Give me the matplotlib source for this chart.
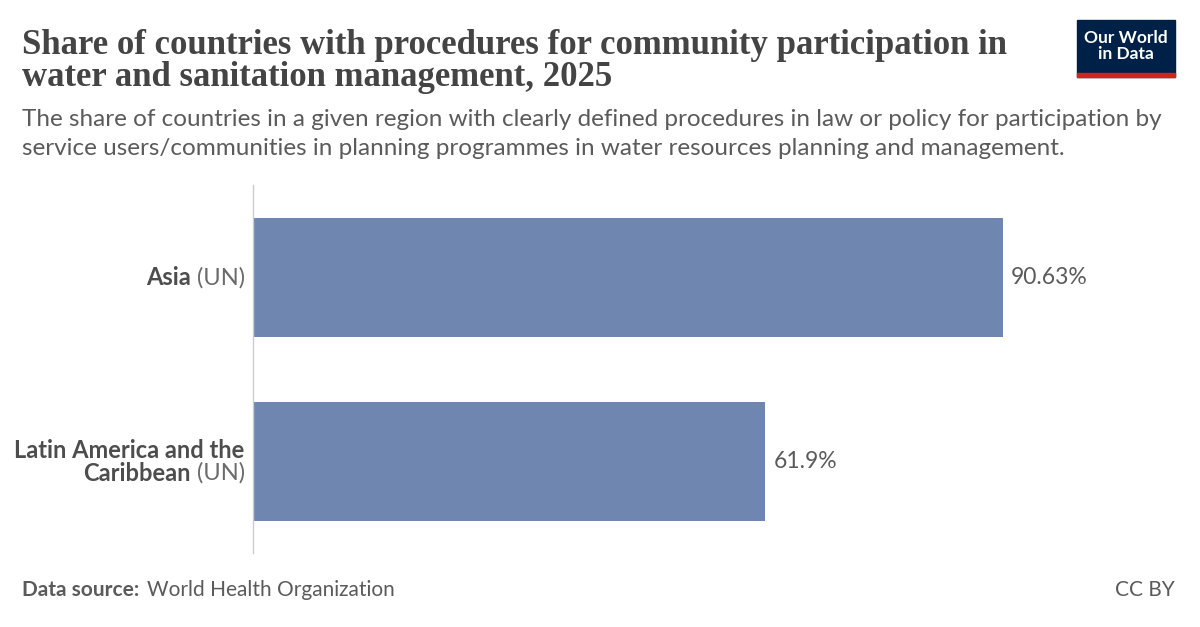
import matplotlib.pyplot as plt
from matplotlib.patches import Rectangle

regions = ['Asia', 'Latin America and the\nCaribbean']
suffix = ['(UN)', '(UN)']
values = [90.63, 61.9]
value_labels = ['90.63%', '61.9%']

title_lines = ['Share of countries with procedures for community participation in',
               'water and sanitation management, 2025']
subtitle_lines = ['The share of countries in a given region with clearly defined procedures in law or policy for participation by',
                  'service users/communities in planning programmes in water resources planning and management.']

W, H = 1200, 627
fig = plt.figure(figsize=(12, 6.27), dpi=100)
plt.rcParams['font.family'] = ['Lato', 'DejaVu Sans']

ax = fig.add_axes([253 / W, 1 - 553 / H, 827.5 / W, 368 / H])
ypos = list(range(len(regions)))
ax.barh(ypos, values, height=0.647, color='#6f87b0')
ax.set_xlim(0, 100)
ax.set_ylim(1.497, -0.503)
for y, v, lab in zip(ypos, values, value_labels):
    ax.text(v + 1.0, y, lab, va='center', ha='left', fontsize=16.5, color='#5b5b5b')

ax.set_xticks([])
ax.set_yticks([])
for s in ['top', 'right', 'bottom']:
    ax.spines[s].set_visible(False)
ax.spines['left'].set_color('#cccccc')
ax.spines['left'].set_linewidth(1)

# category labels: bold name + regular suffix
fs = 17
step = 16.5
for y, name, suf in zip(ypos, regions, suffix):
    lines = name.split('\n')
    n = len(lines)
    last_off = -step * (n - 1) / 2
    t = ax.annotate(' ' + suf, xy=(0, y), xycoords=('axes fraction', 'data'),
                    xytext=(-6, last_off), textcoords='offset points',
                    ha='right', va='center', fontsize=fs, color='#6b6b6b')
    fig.canvas.draw()
    suf_w = t.get_window_extent().width * 72 / fig.dpi
    ax.annotate(lines[-1], xy=(0, y), xycoords=('axes fraction', 'data'),
                xytext=(-6 - suf_w, last_off), textcoords='offset points',
                ha='right', va='center', fontsize=fs, color='#4d4d4d', fontweight='bold')
    for i, ln in enumerate(lines[:-1]):
        ax.annotate(ln, xy=(0, y), xycoords=('axes fraction', 'data'),
                    xytext=(-6, step * (n - 1) / 2 - step * i), textcoords='offset points',
                    ha='right', va='center', fontsize=fs, color='#4d4d4d', fontweight='bold')

for i, ln in enumerate(title_lines):
    fig.text(22 / W, 1 - (45 + 32 * i) / H, ln, ha='left', va='center', fontsize=25,
             family=['Liberation Serif', 'DejaVu Serif'], fontweight='bold', color='#444444')
for i, ln in enumerate(subtitle_lines):
    fig.text(22 / W, 1 - (120 + 28 * i) / H, ln, ha='left', va='center', fontsize=17.5,
             color='#5b5b5b')

fig.text(22 / W, 1 - 590 / H, 'Data source:', ha='left', va='center', fontsize=15,
         color='#5b5b5b', fontweight='bold')
fig.text(147 / W, 1 - 590 / H, 'World Health Organization', ha='left', va='center',
         fontsize=15, color='#5b5b5b')
fig.text(1175 / W, 1 - 590 / H, 'CC BY', ha='right', va='center', fontsize=15,
         color='#5b5b5b')

# logo
fig.patches.append(Rectangle((1077 / W, 1 - 77 / H), 98 / W, 57 / H,
                             transform=fig.transFigure, color='#002147'))
fig.patches.append(Rectangle((1077 / W, 1 - 77 / H), 98 / W, 4 / H,
                             transform=fig.transFigure, color='#ce261e'))
fig.text(1126 / W, 1 - 46 / H, 'Our World\nin Data', ha='center', va='center',
         fontsize=12.5, color='white', fontweight='bold', linespacing=0.95)

fig.savefig('out.png', dpi=100)
